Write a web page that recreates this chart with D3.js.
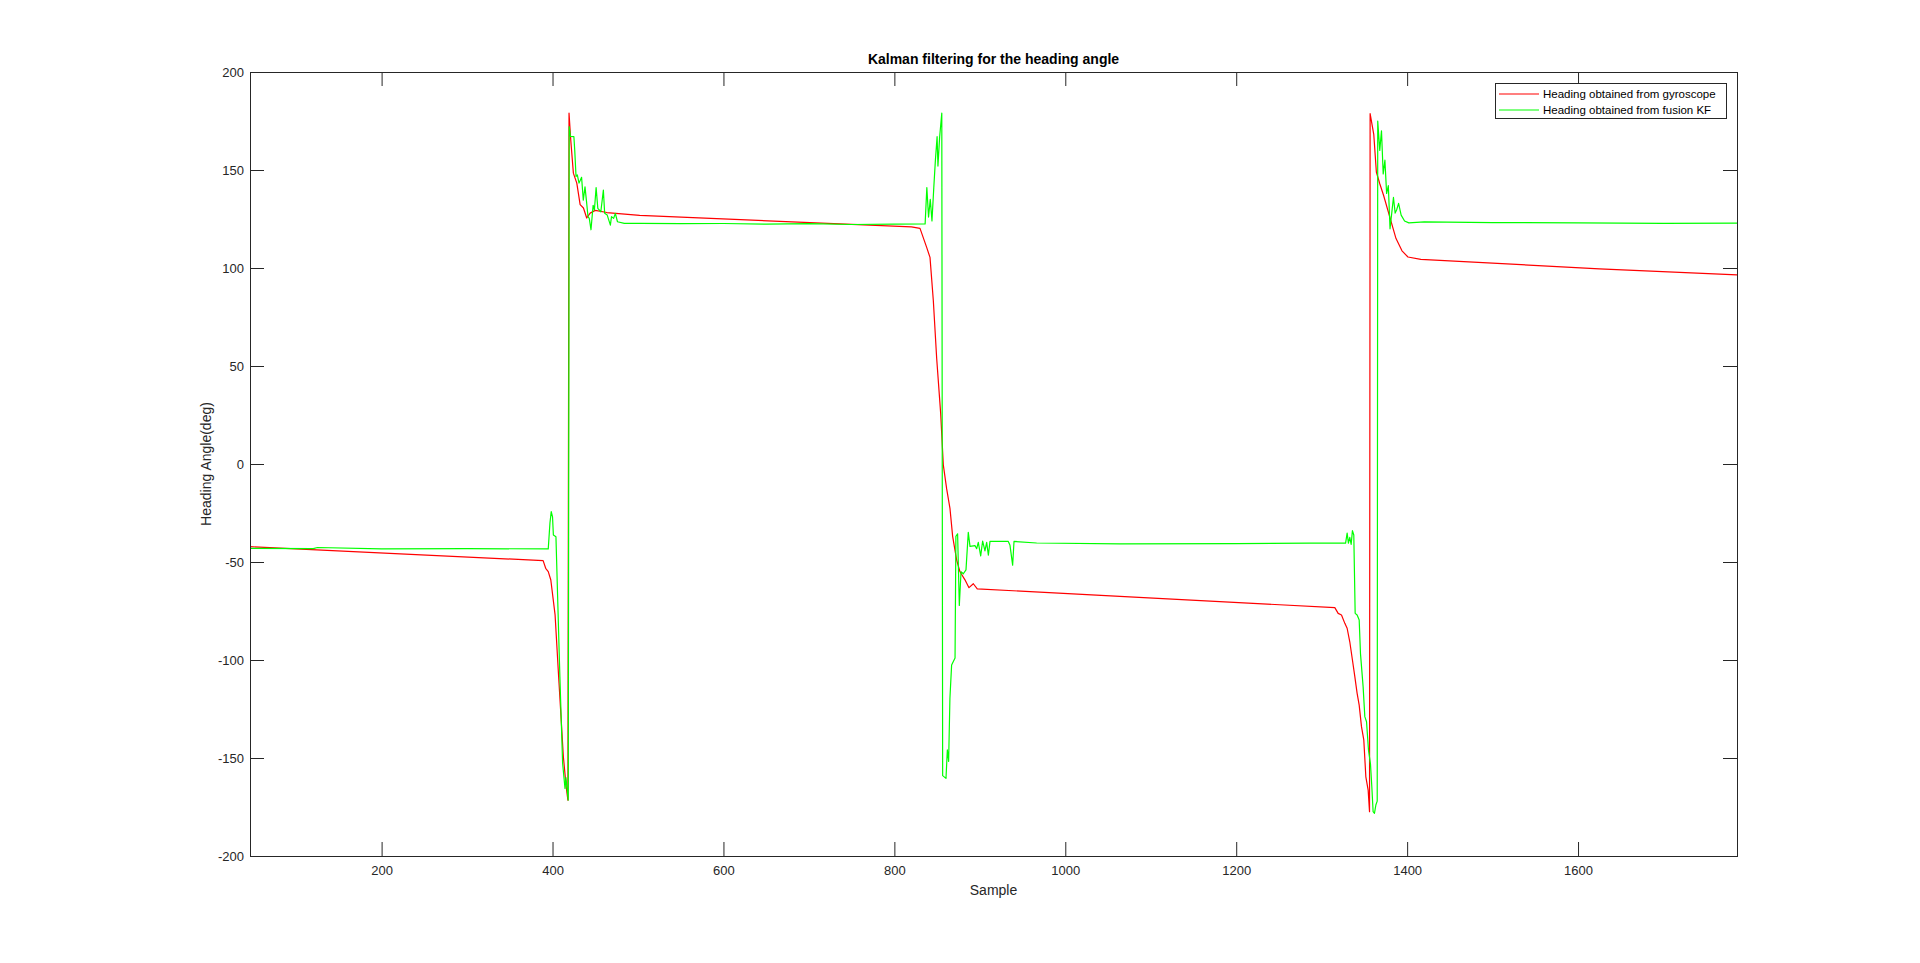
<!DOCTYPE html>
<html><head><meta charset="utf-8">
<script src="https://cdn.jsdelivr.net/npm/d3@7"></script>
<style>
body{margin:0;background:#fff;}
svg{display:block;font-family:Arial,"Liberation Sans",Helvetica,sans-serif;}
</style>
</head><body>
<svg id="chart" width="1920" height="963"></svg>
<script>
// ---------------- data ----------------
const chartTitle = "Kalman filtering for the heading angle";
const xAxisLabel = "Sample";
const yAxisLabel = "Heading Angle(deg)";
const seriesNames = ["Heading obtained from gyroscope", "Heading obtained from fusion KF"];
const xTickValues = [200, 400, 600, 800, 1000, 1200, 1400, 1600];
const yTickValues = [-200, -150, -100, -50, 0, 50, 100, 150, 200];
const xRange = [46, 1786];
const yRange = [-200, 200];

// [sample, heading(deg)]
const gyroHeading = [
  [46,-42.2],[389,-49.3],[392,-53.2],[395,-54.9],[398,-59.2],[403,-77],[407.6,-111.9],
  [412.7,-149.4],[416,-164.7],[418,-171.5],[419.3,179],[421.3,165.4],[424.4,148.4],
  [428.4,143.3],[432.3,132.3],[436.2,130.6],[440,125.5],[444,128],[450,129.4],
  [463.6,128.3],[502,126.8],[820,121],[830,120.2],[837.8,110.5],[841.7,105.4],
  [845.6,83.3],[849.5,54],[854.2,25.7],[857.3,-0.6],[861.2,-12.7],[865.1,-22.8],
  [868.2,-36.9],[872.9,-49],[876.8,-55],[882.6,-59.1],[887.3,-63.1],[892.4,-61.1],
  [897,-63.7],[1064,-67.5],[1315.4,-73.3],[1319.3,-76.2],[1323.2,-77],[1327.1,-81.3],
  [1329.8,-83.8],[1332.9,-90.7],[1336,-100],[1338.8,-108.5],[1341.5,-117],[1343.9,-123],
  [1346.6,-134],[1349.3,-140.8],[1351.7,-159.6],[1354.4,-166.4],[1356,-177.4],
  [1356.7,178.75],[1361,168],[1364,149],[1368,143],[1372.5,137],[1380,125.6],
  [1387,115],[1394,108.75],[1401,105.6],[1416,104.4],[1625,99.6],[1786,96.5]
];

const fusionHeading = [
  [46,-43],[120,-43.2],[125,-42.6],[200,-43.3],[300,-43.2],[395,-43.3],[397,-30],
  [398.5,-24.3],[400,-27],[401,-36.2],[404,-37.1],[408.6,-108.5],[411.8,-152.7],
  [414.6,-165.5],[415.7,-160],[418.4,-171.5],[419.5,172.2],[421,167.1],[425,167],
  [426,160],[427.5,146.7],[429,147.5],[431,143.3],[434,146.3],[436,134.6],[438,141.4],
  [440,133],[441.5,126.2],[443,125.3],[445,119.5],[447.5,132],[449,129.6],[451,141],
  [453,130.4],[456.5,128.7],[459.5,139.7],[461,127.9],[464,127],[467.7,121.9],
  [469,126.2],[471.5,125.3],[473.5,127.9],[476,123.6],[484,122.8],[503,122.8],
  [550,122.6],[600,122.7],[650,122.4],[700,122.6],[750,122.2],[800,122.4],[836,122.5],
  [838,141],[840,126],[842,135],[844,124],[846,140],[848,155],[850,167],[851,152],
  [853,167],[855.5,179],[856.5,-159],[860.4,-160.4],[862,-145.8],[863.5,-151.7],
  [865,-119.6],[867,-102.5],[871,-99],[872,-36.9],[874,-35.6],[876,-72.2],[878,-55],
  [880.7,-56],[883.8,-54],[886.5,-34.9],[888.5,-42],[894.3,-41.6],[896.3,-43.2],
  [898.2,-40],[901,-46.9],[903.3,-39.3],[906,-44.3],[908,-40],[910,-46.5],[911.9,-39.5],
  [916.5,-39.5],[933.3,-39.5],[935.3,-41.5],[938.4,-51.6],[940,-39.5],[966.5,-40.3],
  [1064,-40.8],[1200,-40.6],[1286,-40.4],[1328,-40.4],[1329.8,-35.3],[1331.3,-40.4],
  [1332.9,-37.4],[1334.5,-41],[1336,-34],[1337.6,-36.2],[1339.2,-76.2],[1341.5,-77],
  [1343.9,-79.6],[1345.4,-96.6],[1348.5,-113.6],[1350.5,-128.9],[1352.5,-131.5],
  [1354.8,-146],[1357.1,-153],[1358.7,-164.7],[1360.2,-177.4],[1361.8,-178.2],
  [1363.4,-174],[1365,-172],[1365.6,175],[1368,160],[1370,170],[1372,148],[1374,155],
  [1376,138],[1378,142],[1380,120],[1382,128],[1384,136],[1386,128],[1388,130],
  [1390,133],[1393,127],[1397,124],[1402,123],[1420,123.5],[1500,123.2],[1600,123],
  [1700,122.8],[1786,122.9]
];

const seriesColors = ["#ff0000", "#00ff00"];

// ---------------- layout ----------------
const svg = d3.select("#chart");
const plot = {left: 250, right: 1737, top: 72, bottom: 856};
const axisColor = "#262626";

const x = d3.scaleLinear().domain(xRange).range([plot.left, plot.right]);
const y = d3.scaleLinear().domain(yRange).range([plot.bottom, plot.top]);

svg.append("rect").attr("width",1920).attr("height",963).attr("fill","#fff");
svg.append("rect").attr("x",plot.left).attr("y",plot.top)
  .attr("width",plot.right-plot.left).attr("height",plot.bottom-plot.top).attr("fill","#fff");

svg.append("defs").append("clipPath").attr("id","clip")
  .append("rect").attr("x",plot.left).attr("y",plot.top)
  .attr("width",plot.right-plot.left).attr("height",plot.bottom-plot.top);

const line = d3.line().x(d => x(d[0])).y(d => y(d[1]));
const lines = svg.append("g").attr("clip-path","url(#clip)");
lines.append("path").datum(gyroHeading).attr("d",line)
  .attr("fill","none").attr("stroke",seriesColors[0]).attr("stroke-width",1.2).attr("stroke-linejoin","round");
lines.append("path").datum(fusionHeading).attr("d",line)
  .attr("fill","none").attr("stroke",seriesColors[1]).attr("stroke-width",1.2).attr("stroke-linejoin","round");

function styleAxis(g){
  g.select(".domain").remove();
  g.selectAll(".tick line").attr("stroke",axisColor);
  g.selectAll(".tick text").attr("fill",axisColor).attr("font-size","13px")
    .attr("font-family","Arial,'Liberation Sans',Helvetica,sans-serif");
}
const plainNum = d => String(d);
const tickLen = 14;
svg.append("g").attr("transform",`translate(0,${plot.bottom})`)
  .call(d3.axisBottom(x).tickValues(xTickValues).tickSizeInner(-tickLen).tickSizeOuter(0).tickPadding(10).tickFormat(plainNum))
  .call(styleAxis);
svg.append("g").attr("transform",`translate(0,${plot.top})`)
  .call(d3.axisTop(x).tickValues(xTickValues).tickSizeInner(-tickLen).tickSizeOuter(0).tickFormat(""))
  .call(styleAxis);
svg.append("g").attr("transform",`translate(${plot.left},0)`)
  .call(d3.axisLeft(y).tickValues(yTickValues).tickSizeInner(-tickLen).tickSizeOuter(0).tickPadding(6).tickFormat(plainNum))
  .call(styleAxis);
svg.append("g").attr("transform",`translate(${plot.right},0)`)
  .call(d3.axisRight(y).tickValues(yTickValues).tickSizeInner(-tickLen).tickSizeOuter(0).tickFormat(""))
  .call(styleAxis);

svg.append("rect").attr("x",plot.left+0.5).attr("y",plot.top+0.5)
  .attr("width",plot.right-plot.left).attr("height",plot.bottom-plot.top)
  .attr("fill","none").attr("stroke",axisColor).attr("stroke-width",1);

// title and labels
const cx = (plot.left + plot.right)/2;
svg.append("text").attr("x",cx).attr("y",64).attr("text-anchor","middle")
  .attr("font-size","14px").attr("font-weight","bold").attr("fill","#000").text(chartTitle);
svg.append("text").attr("x",cx).attr("y",895).attr("text-anchor","middle")
  .attr("font-size","14px").attr("fill",axisColor).text(xAxisLabel);
svg.append("text").attr("transform",`translate(211,${(plot.top+plot.bottom)/2}) rotate(-90)`)
  .attr("text-anchor","middle").attr("font-size","14px").attr("fill",axisColor).text(yAxisLabel);

// legend
const legend = svg.append("g");
const lg = {x: 1495, y: 83.5, w: 231, h: 35};
legend.append("rect").attr("x",lg.x+0.5).attr("y",lg.y).attr("width",lg.w).attr("height",lg.h)
  .attr("fill","#fff").attr("stroke",axisColor).attr("stroke-width",1);
seriesNames.forEach((name,i) => {
  const ly = lg.y + 10.5 + i*16;
  legend.append("line").attr("x1",lg.x+4).attr("x2",lg.x+44).attr("y1",ly).attr("y2",ly)
    .attr("stroke",seriesColors[i]).attr("stroke-width",1.2);
  legend.append("text").attr("x",lg.x+48).attr("y",ly).attr("dy","0.35em")
    .attr("font-size","11.5px").attr("fill","#000").text(name);
});
</script>
</body></html>
